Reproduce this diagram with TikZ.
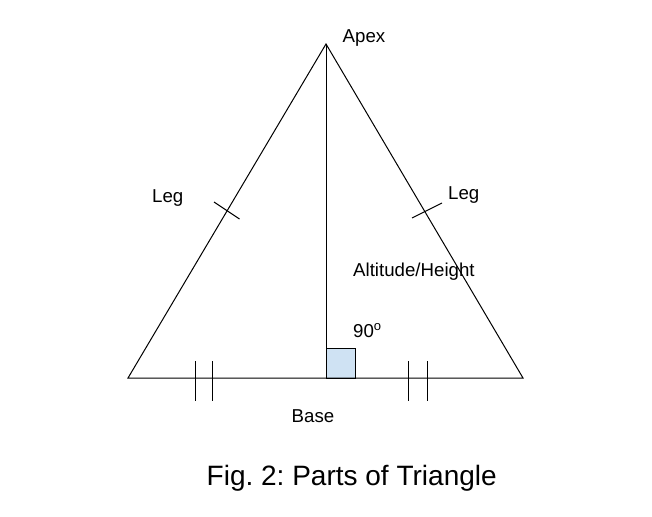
\documentclass[tikz,border=0pt]{standalone}
\usepackage{fontspec}
\setmainfont{Liberation Sans}
\usepackage{tikz}
\usetikzlibrary{positioning}
\definecolor{anglefill}{HTML}{CFE2F3}
\frenchspacing
\tikzset{
		label text/.style={anchor=base west, inner sep=0pt, font=\fontsize{18.67}{22}\selectfont},
		title text/.style={anchor=base west, inner sep=0pt, font=\fontsize{28}{32}\selectfont},
		side/.style={draw, line width=1pt},
		tick/.style={draw, line width=1pt}
	}
\begin{document}
\begin{tikzpicture}[x=1pt, y=-1pt, line join=miter]
				\useasboundingbox (0,0) rectangle (652,516);
				\coordinate (apex)  at (326,44);
				\coordinate (left)  at (128,378);
				\coordinate (right) at (523,378);
				\coordinate (foot)  at (326,378);

				% right angle box
				\filldraw[fill=anglefill, line width=1pt] (foot) rectangle (355,348);

				\path[side] (left) -- (apex) -- (right) -- cycle;
				\path[side] (apex) -- (foot);

				% equal legs
				\path[tick] (214,202) -- (239.5,219);
				\path[tick] (412,218) -- (442,203);
				% equal halves of base
				\foreach \x in {195,212,408,427}
					\path[tick] (\x,361) -- (\x,401);

				\node[label text] (apexlabel)     at (342.5,42.5)  {Apex};
				\node[label text] (leftleg)       at (152,202)     {Leg};
				\node[label text] (rightleg)      at (448,199)     {Leg};
				\node[label text] (altitude)      at (353,276.5)   {Altitude/Height};
				\node[label text] (angle)         at (353,337)     {90\textsuperscript{o}};
				\node[label text] (baselabel)     at (291.5,422.5) {Base};
				\node[title text] (caption)       at (206.5,485)   {Fig. 2: Parts of Triangle};
			\end{tikzpicture}
\end{document}
